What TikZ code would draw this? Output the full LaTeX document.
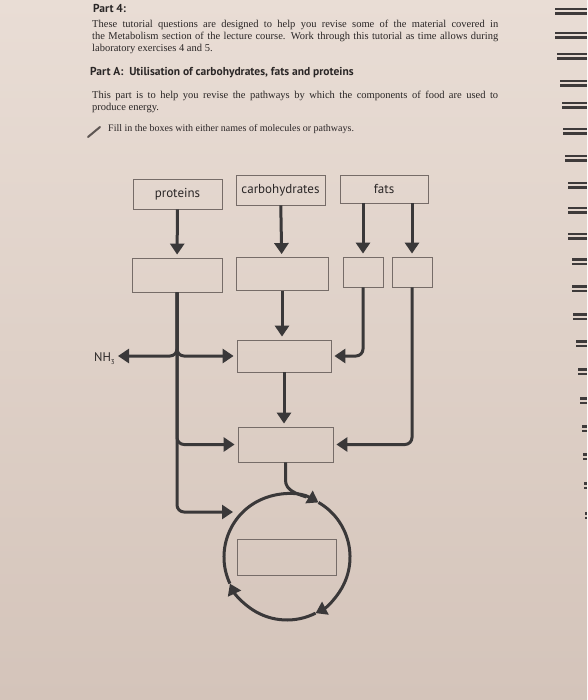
\documentclass[tikz,border=0pt]{standalone}
\usepackage{fontspec}
\setmainfont{Liberation Serif}
\newfontfamily\labelfont{PT Sans}
\usetikzlibrary{arrows.meta}

\definecolor{paperTop}{RGB}{233,221,213}
\definecolor{paperBot}{RGB}{212,196,186}
\definecolor{ink}{RGB}{42,38,38}
\definecolor{flowgray}{RGB}{58,56,57}
\definecolor{boxgray}{RGB}{118,108,104}
\definecolor{ringgray}{RGB}{62,58,58}

\tikzset{
  fillbox/.style={draw=boxgray, line width=0.8pt, inner sep=0pt, text=ink,
    font=\labelfont\fontsize{13}{14}\selectfont},
  flow/.style={draw=flowgray, line width=3pt, shorten >=3pt,
    -{Triangle[width=14pt,length=11pt]}},
  trunk/.style={draw=flowgray, line width=3pt},
  bodytext/.style={inner sep=0pt, text=ink, text width=406pt, align=justify,
    font=\fontsize{10.5}{12}\selectfont},
  headtext/.style={inner sep=0pt, text=ink,
    font=\labelfont\bfseries\fontsize{11.5}{12}\selectfont},
}

\begin{document}
\begin{tikzpicture}[x=1pt,y=-1pt]
\useasboundingbox (0,0) rectangle (587,700);
\shade[top color=paperTop, bottom color=paperBot] (0,0) rectangle (587,700);

% binding rings on the right edge
\foreach \y/\x in {8/555,32/555,53/557,80/560,102/562,128/563,155/565,182/568,207/568,233/568,258/572,285/572,313/573,340/576,368/578,397/580,425/582,453/583,482/584,512/585}
{
  \fill[ringgray] (\x,\y) rectangle (587,\y+2.5);
  \fill[ringgray] (\x,\y+4.5) rectangle (587,\y+7);
}

% header text
\node (part) [headtext, anchor=base west] at (93,13) {Part 4:};
\node (intro) [bodytext, anchor=north west] at (92,20) {These tutorial questions are designed to help you revise some of the material covered in\linebreak
the Metabolism section of the lecture course.\enspace Work through this tutorial as time allows during\linebreak
laboratory exercises 4 and 5.};
\node (parta) [headtext, anchor=base west] at (90,76) {Part A:\enspace Utilisation of carbohydrates, fats and proteins};
\node (aim) [bodytext, anchor=north west] at (92,91) {This part is to help you revise the pathways by which the components of food are used to\linebreak
produce energy.};
\node (task) [inner sep=0pt, text=ink, anchor=base west, font=\fontsize{10}{12}\selectfont] at (108,132) {Fill in the boxes with either names of molecules or pathways.};
\draw[boxgray!80!black, line width=2pt, line cap=round] (88,137) -- (100,127);

% food boxes
\node (prot) [fillbox, minimum width=89pt, minimum height=30pt] at (177.5,194) {proteins};
\node (carb) [fillbox, minimum width=89pt, minimum height=30pt] at (280.5,190) {carbohydrates};
\node (fat) [fillbox, minimum width=88pt, minimum height=28pt] at (384,189) {fats};

% empty boxes
\node (protA) [fillbox, minimum width=90pt, minimum height=34pt] at (177,275) {};
\node (carbA) [fillbox, minimum width=92pt, minimum height=33pt] at (282,274) {};
\node (fatA) [fillbox, minimum width=40pt, minimum height=30pt] at (363,272) {};
\node (fatB) [fillbox, minimum width=40pt, minimum height=30pt] at (412,272) {};
\node (pyr) [fillbox, minimum width=94pt, minimum height=32pt] at (284,356) {};
\node (acc) [fillbox, minimum width=95pt, minimum height=35pt] at (285.5,444.5) {};
\node (cyc) [fillbox, minimum width=99pt, minimum height=36pt] at (286.5,557) {};
\node (nh3) [inner sep=0pt, text=ink, anchor=east, font=\labelfont\fontsize{12.5}{13}\selectfont] at (115,359) {NH\raisebox{-0.45ex}{\scriptsize 3}};

\coordinate (cin) at (306.5,497);
\coordinate (cycW) at (233,512);

% arrows from the food boxes
\draw[flow] (prot) -- (protA);
\draw[flow] (carb) -- (carbA);
\draw[flow] (fatA.north |- fat.south) -- (fatA);
\draw[flow] (fatB.north |- fat.south) -- (fatB);

% protein trunk
\draw[flow, rounded corners=7pt] (protA.south) |- (nh3.east |- pyr.west);
\draw[flow, rounded corners=7pt] (protA.south) |- (pyr.west);
\draw[flow, rounded corners=7pt] (protA.south) |- (acc.west);
\draw[flow, rounded corners=7pt, shorten >=0pt] (protA.south) |- (cycW);

% carbohydrate and fat routes
\draw[flow] (carbA.south) -- (carbA.south |- pyr.north);
\draw[flow, rounded corners=7pt] (fatA.south) |- (pyr.east);
\draw[flow, rounded corners=7pt] (fatB.south) |- (acc.east);
\draw[flow] (pyr.south) -- (pyr.south |- acc.north);
\draw[trunk] (acc.south) -- ++(0,18) .. controls +(0,10) and (297,494) .. (cin);

% cycle
\foreach \a/\b in {-60/63,63/155,155/300}
  \draw[flow, shorten >=0pt] (287,557) ++(\a:63) arc[start angle=\a, end angle=\b, radius=63];
\end{tikzpicture}
\end{document}
